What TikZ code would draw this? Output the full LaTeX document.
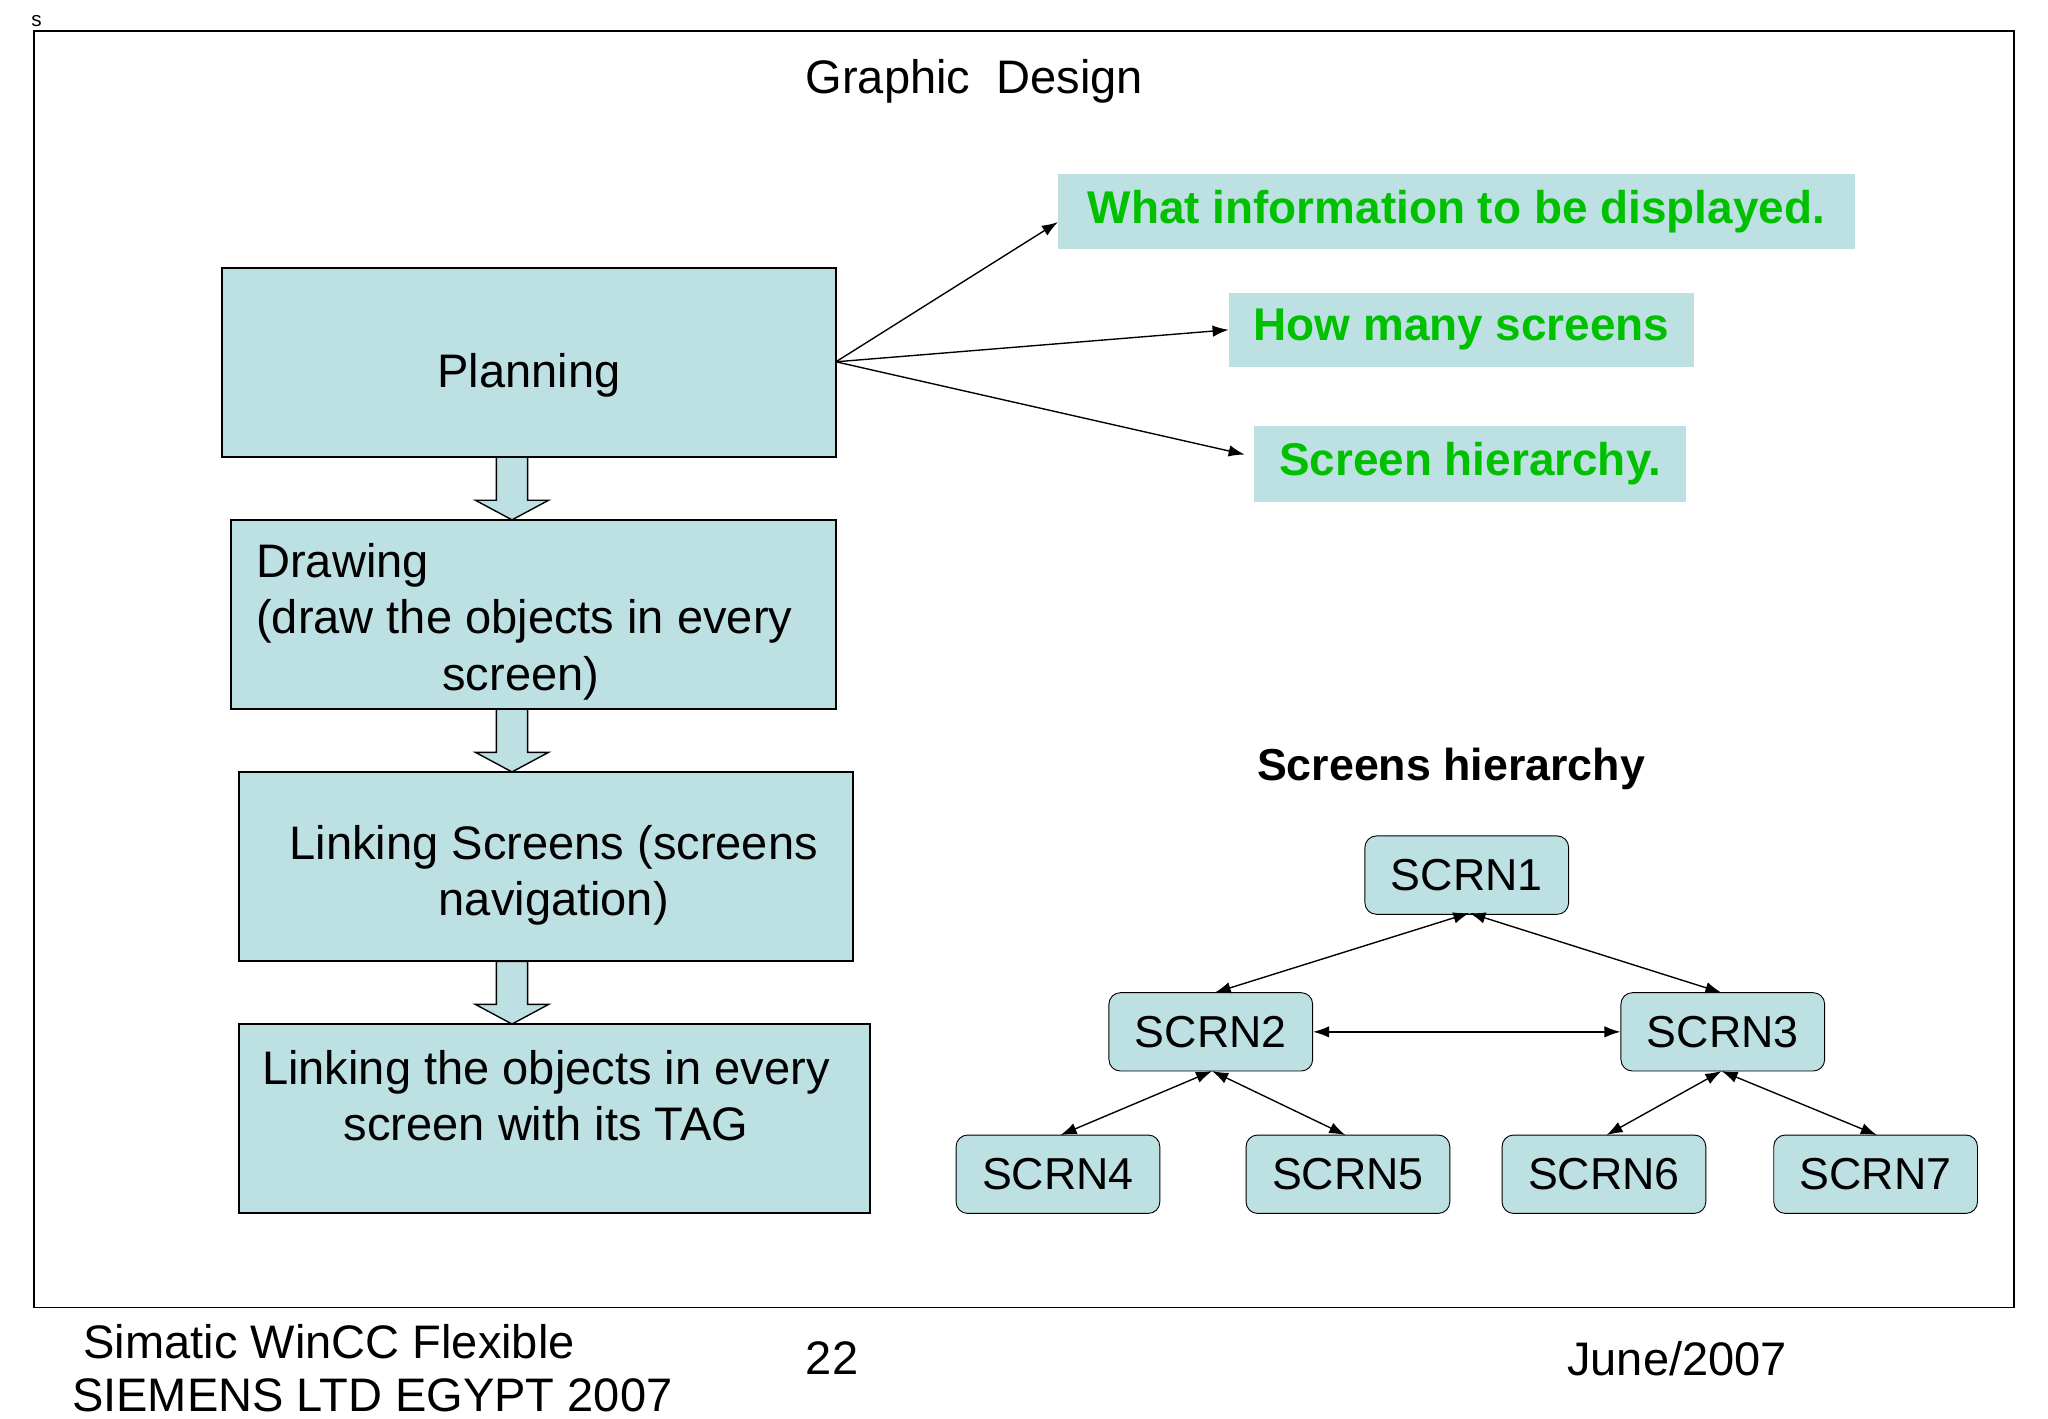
\documentclass[tikz,border=0pt]{standalone}
\usepackage{fontspec}
\setmainfont{Liberation Sans}
\usetikzlibrary{arrows.meta,shapes.arrows}
\definecolor{bx}{HTML}{BDE0E3}
\definecolor{gr}{HTML}{00C000}
\begin{document}
\begin{tikzpicture}[x=0.02cm,y=-0.02cm,
 box/.style={draw=black,fill=bx,line width=0.8pt},
 big/.style={font=\fontsize{20.5}{24.5}\selectfont},
 gbox/.style={fill=bx,text=gr,font=\fontsize{20}{22}\selectfont\bfseries},
 scr/.style={draw=black,fill=bx,rounded corners=5pt,minimum width=3.12cm,minimum height=1.2cm,font=\fontsize{19.5}{22}\selectfont,inner sep=0pt},
 ar/.style={-{Latex[length=7pt,width=5pt]},line width=0.6pt},
 br/.style={{Latex[length=7pt,width=5pt]}-{Latex[length=7pt,width=5pt]},line width=0.6pt},
 blk/.style={draw=black,fill=bx,line width=0.6pt}]
\useasboundingbox (0,0) rectangle (1568,1086);
\draw[line width=0.8pt] (26,24) rectangle (1542,1001);
\node[font=\fontsize{9}{10}\selectfont] (s) at (28,16) {s};
\node[big] (title) at (746,62) {Graphic\ \ Design};
% left boxes
\draw[box] (170,205) rectangle (640,350);
\node[big] (plan) at (405,287) {Planning};
\draw[box] (177,398) rectangle (640,543);
\node[big,align=left,anchor=north west] (draw) at (190,410) {Drawing\\(draw the objects in every\\\hspace*{2.85cm}screen)};
\draw[box] (183,591) rectangle (653,736);
\node[big,align=center] (link) at (424,670) {Linking Screens (screens\\navigation)};
\draw[box] (183,784) rectangle (666,929);
\node[big,align=center] (tag) at (418,839) {Linking the objects in every\\screen with its TAG};
% block arrows
\foreach \a/\b in {350/398,543/591,736/784}{
 \draw[blk] (380,\a) -- (404,\a) -- (404,\b-15) -- (420,\b-15) -- (392,\b) -- (364,\b-15) -- (380,\b-15) -- cycle;}
% green boxes
\node[gbox,minimum width=12.2cm,minimum height=1.16cm] (g1) at (1115,162) {What information to be displayed.};
\node[gbox,minimum width=7.12cm,minimum height=1.14cm] (g2) at (1119,252.5) {How many screens};
\node[gbox,minimum width=6.62cm,minimum height=1.16cm] (g3) at (1125.5,355) {Screen hierarchy.};
\coordinate (p) at (640,277);
\draw[ar] (p) -- (810,170);
\draw[ar] (p) -- (g2.west);
\draw[ar] (p) -- (953,348);
% hierarchy
\node[font=\fontsize{19.5}{22}\selectfont\bfseries] (sh) at (1111,589) {Screens hierarchy};
\node[scr] (s1) at (1123,670) {SCRN1};
\node[scr] (s2) at (927,790) {SCRN2};
\node[scr] (s3) at (1319,790) {SCRN3};
\node[scr] (s4) at (810,899) {SCRN4};
\node[scr] (s5) at (1032,899) {SCRN5};
\node[scr] (s6) at (1228,899) {SCRN6};
\node[scr] (s7) at (1436,899) {SCRN7};
\draw[br] (1125,699) -- (930,760);
\draw[br] (1125,699) -- (1318,760);
\draw[br] (s2) -- (s3);
\draw[br] (928,820) -- (812,869);
\draw[br] (928,820) -- (1030,869);
\draw[br] (1318,820) -- (1230,869);
\draw[br] (1318,820) -- (1437,869);
% footer
\node[big] (f1) at (252,1027) {Simatic WinCC Flexible};
\node[big] (f2) at (285,1068) {SIEMENS LTD EGYPT 2007};
\node[big] (f3) at (637,1040) {22};
\node[big] (f4) at (1284,1040) {June/2007};
\end{tikzpicture}
\end{document}
